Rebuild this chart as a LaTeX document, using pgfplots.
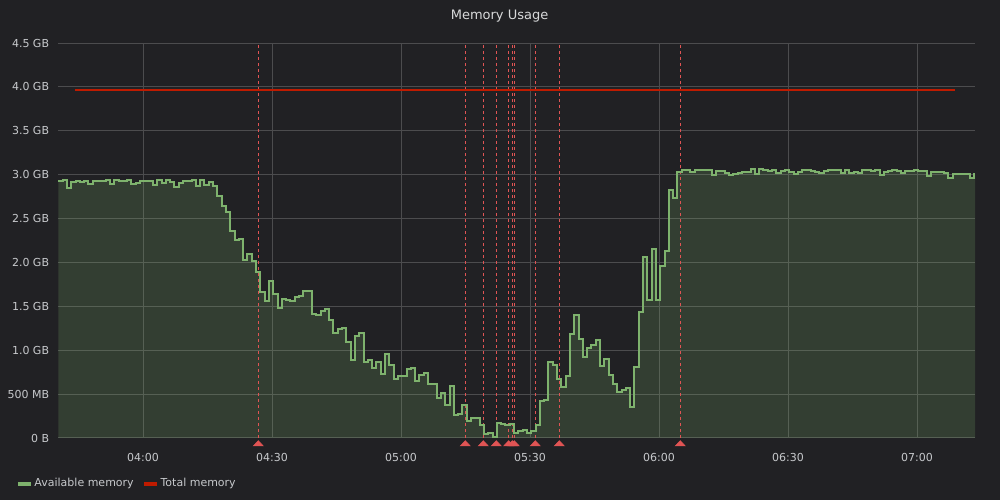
\documentclass[border=0pt]{standalone}
\usepackage{pgfplots}
\pgfplotsset{compat=1.18}
\usepackage{pgfplotstable}
\usepackage{fontspec}
\setmainfont{DejaVu Sans}
\definecolor{bg}{RGB}{33,33,36}
\definecolor{gridc}{RGB}{76,76,78}
\definecolor{avail}{RGB}{126,178,109}
\definecolor{totalc}{RGB}{191,27,0}
\definecolor{annc}{RGB}{224,84,84}
\definecolor{txt}{RGB}{199,201,204}
\definecolor{ttl}{RGB}{216,217,218}

% minutes after 04:00, available memory in GB
\pgfplotstableread{
t v
-19.7 2.927
-18.7 2.942
-17.7 2.851
-16.7 2.920
-15.7 2.927
-14.7 2.912
-13.7 2.927
-12.7 2.890
-11.7 2.923
-10.7 2.923
-9.7 2.923
-8.7 2.935
-7.7 2.890
-6.7 2.935
-5.7 2.923
-4.7 2.923
-3.7 2.942
-2.7 2.890
-1.7 2.908
-0.7 2.923
0.3 2.931
1.3 2.923
2.3 2.878
3.3 2.942
4.3 2.904
5.3 2.942
6.3 2.912
7.3 2.863
8.3 2.901
9.3 2.931
10.3 2.927
11.3 2.942
12.3 2.875
13.3 2.942
14.3 2.886
15.3 2.920
16.3 2.871
17.3 2.760
18.3 2.646
19.3 2.58
20.3 2.356
21.3 2.258
22.3 2.265
23.3 2.027
24.3 2.098
25.3 2.015
26.3 1.894
27.3 1.66
28.3 1.557
29.3 1.784
30.3 1.636
31.3 1.485
32.3 1.583
33.3 1.572
34.3 1.564
35.3 1.602
36.3 1.621
37.3 1.674
38.3 1.674
39.3 1.417
40.3 1.405
41.3 1.443
42.3 1.47
43.3 1.348
44.3 1.197
45.3 1.242
46.3 1.25
47.3 1.098
48.3 0.894
49.3 1.167
50.3 1.197
51.3 0.871
52.3 0.894
53.3 0.795
54.3 0.864
55.3 0.731
56.3 0.958
57.3 0.826
58.3 0.667
59.3 0.712
60.3 0.705
61.3 0.788
62.3 0.795
63.3 0.652
64.3 0.72
65.3 0.742
66.3 0.617
67.3 0.617
68.3 0.455
69.3 0.515
70.3 0.371
71.3 0.59
72.3 0.258
73.3 0.277
74.3 0.379
75.3 0.189
76.3 0.227
77.3 0.231
78.3 0.144
79.3 0.042
80.3 0.057
81.3 0.008
82.3 0.167
83.3 0.163
84.3 0.144
85.3 0.155
86.3 0.057
87.3 0.083
88.3 0.091
89.3 0.061
90.3 0.08
91.3 0.144
92.3 0.42
93.3 0.428
94.3 0.871
95.3 0.833
96.3 0.674
97.3 0.58
98.3 0.712
99.3 1.182
100.3 1.40
101.3 1.129
102.3 0.928
103.3 1.03
104.3 1.06
105.3 1.117
106.3 0.818
107.3 0.902
108.3 0.72
109.3 0.617
110.3 0.523
111.3 0.542
112.3 0.568
113.3 0.348
114.3 0.807
115.3 1.44
116.3 2.06
117.3 1.572
118.3 2.15
119.3 1.572
120.3 1.962
121.3 2.129
122.3 2.822
123.3 2.731
124.3 3.027
125.3 3.057
126.3 3.05
127.3 3.03
128.3 3.05
129.3 3.057
130.3 3.057
131.3 3.057
132.3 2.996
133.3 3.04
134.3 3.038
135.3 3.02
136.3 3.0
137.3 3.01
138.3 3.02
139.3 3.03
140.3 3.03
141.3 3.06
142.3 3.011
143.3 3.064
144.3 3.053
145.3 3.038
146.3 3.05
147.3 3.015
148.3 3.038
149.3 3.053
150.3 3.034
151.3 3.011
152.3 3.027
153.3 3.057
154.3 3.05
155.3 3.042
156.3 3.03
157.3 3.023
158.3 3.042
159.3 3.05
160.3 3.05
161.3 3.053
162.3 3.023
163.3 3.053
164.3 3.023
165.3 3.03
166.3 3.019
167.3 3.057
168.3 3.057
169.3 3.042
170.3 3.05
171.3 3.0
172.3 3.03
173.3 3.045
174.3 3.05
175.3 3.042
176.3 3.023
177.3 3.038
178.3 3.045
179.3 3.053
180.3 3.045
181.3 3.038
182.3 2.989
183.3 3.03
184.3 3.027
185.3 3.03
186.3 3.019
187.3 2.958
188.3 3.008
189.3 3.011
190.3 3.004
191.3 3.011
192.3 2.958
193.3 3.008
193.49 3.008
}\memtable

\begin{document}
\begin{tikzpicture}
\fill[bg] (0,0) rectangle (750pt,375pt);
\begin{axis}[
  at={(43.5pt,46.5pt)}, anchor=south west,
  scale only axis, width=687.75pt, height=296.25pt,
  xmin=-19.77, xmax=193.49, ymin=0, ymax=4.5,
  xtick={0,30,60,90,120,150,180},
  xticklabels={04:00,04:30,05:00,05:30,06:00,06:30,07:00},
  ytick={0,0.5,1,1.5,2,2.5,3,3.5,4,4.5},
  yticklabels={0 B,500 MB,1.0 GB,1.5 GB,2.0 GB,2.5 GB,3.0 GB,3.5 GB,4.0 GB,4.5 GB},
  grid=major, major grid style={draw=gridc, line width=0.75pt},
  axis line style={draw=none}, major tick length=0pt,
  tick label style={text=txt, font=\fontsize{8.25}{10}\selectfont},
  xticklabel style={anchor=north, inner sep=0pt, yshift=-11.5pt},
  yticklabel style={anchor=east, inner sep=0pt, xshift=-6.5pt},
  title={Memory Usage},
  title style={at={(axis description cs:0.4815,1.0405)}, anchor=base, text=ttl, font=\fontsize{9.75}{12}\selectfont, inner sep=0pt},
  clip=false,
  legend columns=2,
  legend style={at={(axis description cs:-0.0436,-0.116)}, anchor=west, draw=none, fill=none, text=txt,
    font=\fontsize{8.25}{10}\selectfont, inner sep=0pt,
    /tikz/every odd column/.append style={column sep=0.75pt},
    /tikz/every even column/.append style={column sep=6pt}},
]
\addplot[const plot, draw=none, fill=avail, fill opacity=0.2, forget plot] table[x=t, y=v] {\memtable} \closedcycle;
\addplot[ycomb, draw=annc, line width=0.75pt, dash pattern=on 2.25pt off 2.25pt, forget plot] coordinates {
(26.81,4.5) (74.95,4.5) (79.14,4.5) (82.16,4.5) (85.04,4.5) (85.88,4.5) (86.35,4.5) (91.23,4.5) (96.81,4.5) (124.95,4.5)};
\addplot[const plot, draw=avail, line width=1.5pt, forget plot] table[x=t, y=v] {\memtable};
\addplot[draw=totalc, line width=1.5pt, forget plot] coordinates {(-15.82,3.96) (188.83,3.96)};
\addplot[only marks, mark=triangle*, mark size=4.33pt, color=annc, mark options={yscale=0.615}, forget plot] coordinates {
(26.81,-0.0706) (74.95,-0.0706) (79.14,-0.0706) (82.16,-0.0706) (85.04,-0.0706) (85.88,-0.0706) (86.35,-0.0706) (91.23,-0.0706) (96.81,-0.0706) (124.95,-0.0706)};
\addlegendimage{legend image code/.code={\fill[avail] (0pt,-1.1pt) rectangle (9pt,1.1pt);}}
\addlegendentry{Available memory}
\addlegendimage{legend image code/.code={\fill[totalc] (0pt,-1.1pt) rectangle (9pt,1.1pt);}}
\addlegendentry{Total memory}
\end{axis}
\pgfresetboundingbox
\path[use as bounding box] (0,0) rectangle (750pt,375pt);
\end{tikzpicture}
\end{document}
